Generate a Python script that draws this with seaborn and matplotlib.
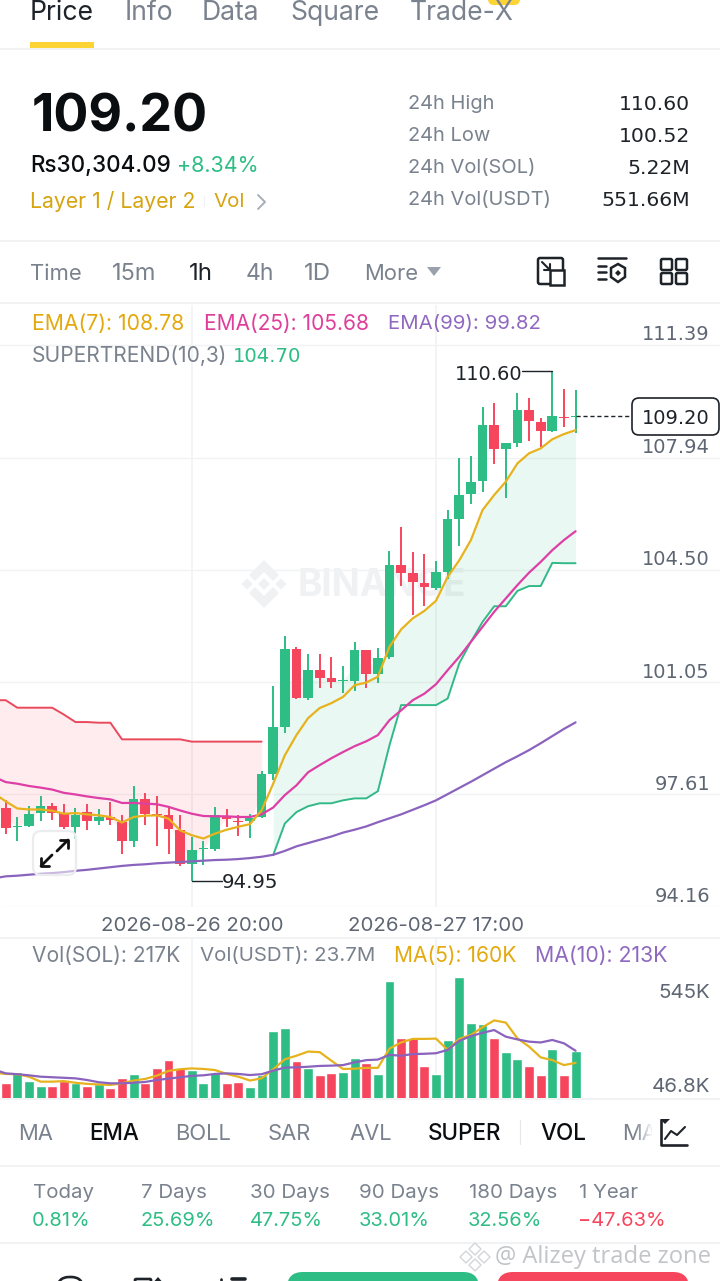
import numpy as np, pandas as pd
import matplotlib
matplotlib.use("Agg")
import matplotlib.pyplot as plt
from matplotlib.patches import FancyBboxPatch, Polygon, Rectangle
import seaborn as sns

sns.set_theme(style="white")
plt.rcParams['font.family'] = ['Inter', 'DejaVu Sans']

# ---------- data (candle index -1 sits just outside the left edge) ----------
opens = [97.30, 97.20,96.60,96.65,97.04,97.26,97.04,96.62,97.07,96.81,96.92,
 96.77,96.17,97.46,97.02,96.99,96.53,95.47,95.94,95.94,96.95,
 96.80,96.80,96.92,98.25,99.68,102.08,100.58,101.42,101.18,101.10,
 101.08,102.03,101.29,101.82,104.66,104.39,104.10,103.95,104.43,106.07,
 106.81,107.21,108.94,108.20,108.40,109.39,109.02,108.75,109.18,109.18]
closes = [97.25, 96.59,96.63,97.01,97.26,97.05,96.62,96.97,96.80,96.92,96.82,
 96.18,97.46,97.02,96.97,96.54,95.49,95.92,95.97,96.97,96.85,
 96.77,96.89,98.25,99.68,102.06,100.58,101.44,101.19,101.07,101.12,
 102.03,101.29,101.80,104.65,104.41,104.11,103.96,104.42,106.05,106.80,
 107.20,108.94,108.19,108.38,109.39,109.05,108.75,109.20,109.15,109.20]
highs = [97.40, 97.43,96.92,97.26,97.55,97.36,97.31,97.18,97.31,97.15,97.38,
 96.99,97.87,97.66,97.55,97.23,96.97,96.31,96.17,97.23,97.15,
 96.97,97.02,98.33,100.93,102.46,102.14,101.93,101.93,101.81,101.54,
 102.28,102.05,102.09,105.07,105.80,105.03,104.97,104.76,106.33,107.94,
 107.99,109.50,109.62,108.38,109.93,109.77,109.14,110.60,110.03,110.01]
lows = [97.10, 96.39,96.18,96.62,96.79,96.82,96.56,96.26,96.51,96.67,96.67,
 95.77,96.00,96.68,96.02,95.78,95.41,94.95,95.46,95.87,96.62,
 96.33,96.29,96.90,98.05,99.50,100.55,100.52,100.86,100.88,100.71,
 100.78,100.88,101.03,101.75,104.00,103.11,103.39,103.88,104.23,105.22,
 106.51,106.87,107.73,106.71,108.27,108.45,108.25,108.73,108.89,108.68]
ema7 = [97.64, 97.40,97.18,97.15,97.15,97.11,97.02,97.04,97.00,96.97,96.92,
 96.75,96.92,96.96,96.97,96.87,96.51,96.36,96.26,96.41,96.53,
 96.62,96.70,97.12,97.94,98.81,99.43,99.95,100.26,100.41,100.60,
 100.96,101.04,101.22,102.14,102.67,103.01,103.24,103.55,104.28,104.79,
 105.41,106.33,106.79,107.20,107.76,108.07,108.22,108.50,108.66,108.78]
ema25 = [98.15, 97.99,97.94,97.87,97.82,97.76,97.66,97.61,97.55,97.50,97.46,
 97.35,97.35,97.33,97.31,97.23,97.12,97.02,96.95,96.94,96.94,
 96.92,96.92,97.00,97.21,97.59,97.89,98.29,98.51,98.72,98.91,
 99.09,99.24,99.43,99.89,100.19,100.50,100.70,100.99,101.42,101.83,
 102.29,102.75,103.21,103.62,104.03,104.41,104.74,105.10,105.41,105.68]
ema99 = [95.04, 95.10,95.12,95.15,95.18,95.20,95.23,95.27,95.30,95.34,95.38,
 95.42,95.45,95.47,95.50,95.52,95.54,95.56,95.58,95.60,95.61,
 95.63,95.66,95.70,95.76,95.88,96.02,96.12,96.22,96.32,96.44,
 96.53,96.63,96.76,96.88,97.00,97.14,97.28,97.43,97.62,97.81,
 98.00,98.20,98.40,98.60,98.78,98.97,99.18,99.40,99.62,99.82]
super_red = [100.50,100.50,100.27,100.27,100.27,100.27,100.06,99.83,99.83,99.81,99.81,
 99.30,99.30,99.30,99.30,99.30,99.30,99.23,99.23,99.23,99.23,99.23,99.23,99.23]
super_green = [95.75,96.72,97.07,97.25,97.34,97.34,97.43,97.49,97.49,97.71,99.12,
 100.35,100.35,100.35,100.35,100.55,101.63,102.29,102.90,103.38,103.38,103.85,
 104.00,104.00,104.71,104.70,104.70]
volumes = [100, 100,140,110,89,90,110,100,91,96,82,
 119,133,100,155,184,157,148,100,136,102,
 105,88,130,288,299,181,157,130,137,142,
 191,172,133,471,265,263,164,135,257,486,
 317,314,264,212,189,163,130,223,130,218]
vol_ma5 = [138, 134,133,124,106,106,108,102,98,96,94,
 100,110,116,128,145,151,154,152,148,134,
 124,110,118,151,187,200,215,213,182,152,
 153,156,156,226,248,261,261,262,221,261,
 275,303,328,320,263,233,194,184,166,174]
vol_ma10 = [150, 136,133,129,124,122,120,118,112,104,100,
 100,102,105,112,117,122,127,129,134,136,
 134,130,133,146,157,158,160,163,164,166,
 176,184,186,203,200,206,207,209,221,254,
 271,283,293,269,259,251,248,257,245,218]
price_ticks = [111.39, 107.94, 104.50, 101.05, 97.61, 94.16]
vol_tick_labels = ['545K', '46.8K']
time_labels = ['2026-08-26 20:00', '2026-08-27 17:00']
time_label_idx = [16, 37]
period_names = ['Today', '7 Days', '30 Days', '90 Days', '180 Days', '1 Year']
period_values = ['0.81%', '25.69%', '47.75%', '33.01%', '32.56%', '\u221247.63%']

GREEN, RED = '#2EBD85', '#F6465D'
YEL, PINK, PUR = '#E6B31E', '#DE3FA6', '#8A63BE'
GRID = '#F1F2F4'; GRAY = '#7A828E'; INK = '#0B0E11'; LBL = '#5E6673'
DJ = 'DejaVu Sans'

W, H = 720, 1281
fig = plt.figure(figsize=(W/100, H/100), dpi=100, facecolor='white')

# watermark layer, under the chart panes
bg = fig.add_axes([0, 0, 1, 1], zorder=-1); bg.set_xlim(0, W); bg.set_ylim(H, 0); bg.axis('off')
WM = '#F0F1F2'
bg.text(298, 586, 'BINANCE', fontsize=37*0.72, color=WM, fontweight='bold', va='center')
for (cx, cy, r) in [(264, 584, 6), (247, 584, 5.5), (281, 584, 5.5)]:
    bg.add_patch(Polygon([(cx-r, cy), (cx, cy-r), (cx+r, cy), (cx, cy+r)], fc=WM, ec='none'))
bg.add_patch(Polygon([(264, 560), (279, 575), (273, 581), (264, 572), (255, 581), (249, 575)], fc=WM, ec='none'))
bg.add_patch(Polygon([(264, 608), (279, 593), (273, 587), (264, 596), (255, 587), (249, 593)], fc=WM, ec='none'))

def pane(top, bottom):
    a = fig.add_axes([0, 1-bottom/H, 1, (bottom-top)/H])
    a.set_facecolor('none')
    a.set_xlim(-5.7/11.63, (W-5.7)/11.63)
    a.set_xticks([]); a.set_yticks([])
    for s in a.spines.values(): s.set_visible(False)
    return a

idx = np.arange(-1, 50)
o, c, hi, lo = map(np.array, (opens, closes, highs, lows))
up = c >= o
ppu = (907-345)/(price_ticks[0]-price_ticks[-1])

ax = pane(305, 907)
ax.set_ylim(price_ticks[-1], price_ticks[0]+40/ppu)
for v in price_ticks:
    ax.axhline(v, color=GRID, lw=1, zorder=0)
for i in time_label_idx:
    ax.axvline(i, color=GRID, lw=1.2, zorder=0)

mid = (o+c)/2
ri = idx[:24]; gi = idx[24:]
# the shaded band follows the candle middles until the breakout, then the EMA(7)
fill_top = np.where(idx >= 33, np.array(ema7), mid)
ax.fill_between(ri, super_red, mid[:24], color=RED, alpha=0.1, lw=0, zorder=1)
ax.fill_between(gi, super_green, fill_top[24:], color=GREEN, alpha=0.1, lw=0, zorder=1)

ax.vlines(idx, lo, hi, colors=[GREEN if u else RED for u in up], lw=1.4, zorder=3)
ax.bar(idx, np.maximum(np.abs(c-o), 0.03), bottom=np.minimum(o, c), width=0.83,
       color=[GREEN if u else RED for u in up], lw=0, zorder=3)

def line(a, xs, ys, col, lw=1.6):
    sns.lineplot(x=xs, y=ys, color=col, lw=lw, ax=a, estimator=None, sort=False, legend=False, zorder=4)
line(ax, ri, super_red, '#E84A5C', 1.4)
line(ax, gi, super_green, '#33B988', 1.4)
line(ax, idx, ema99, PUR)
line(ax, idx, ema25, PINK)
line(ax, idx, ema7, YEL)
ax.set_xlabel(''); ax.set_ylabel('')
ax.set_xticks([]); ax.set_yticks([])

vx = pane(938, 1098)
vx.set_ylim(46.8, 46.8+160/0.276)
for i in time_label_idx:
    vx.axvline(i, color=GRID, lw=1.2, zorder=0)
vdf = pd.DataFrame({'i': idx, 'vol': volumes, 'dir': ['up' if u else 'down' for u in up]})
sns.barplot(data=vdf, x='i', y='vol', hue='dir', palette={'up': GREEN, 'down': RED},
            native_scale=True, dodge=False, width=0.85, saturation=1, legend=False, ax=vx, zorder=2)
line(vx, idx, vol_ma5, YEL, 1.6)
line(vx, idx, vol_ma10, PUR, 1.6)
vx.set_xlim(-5.7/11.63, (W-5.7)/11.63); vx.set_ylim(46.8, 46.8+160/0.276)
vx.set_xlabel(''); vx.set_ylabel(''); vx.set_xticks([]); vx.set_yticks([])

# ---------- pixel overlay for the app chrome ----------
ui = fig.add_axes([0, 0, 1, 1]); ui.set_facecolor('none')
ui.set_xlim(0, W); ui.set_ylim(H, 0); ui.axis('off')

def t(x, y, s, px, col=GRAY, ha='left', w='normal', z=6, **k):
    return ui.text(x, y+4, s, fontsize=px*0.72, color=col, ha=ha, va='center', fontweight=w, zorder=z, **k)
def hl(y, x0=0, x1=W, col='#EEF0F2', lw=1.2):
    ui.plot([x0, x1], [y, y], color=col, lw=lw, solid_capstyle='butt', zorder=1)
def ic(xs, ys, lw=2, col='#1E2329', z=7):
    ui.plot(xs, ys, color=col, lw=lw, solid_capstyle='round', zorder=z)
def box(x, y, w, h, r, fc='none', ec='#1E2329', lw=2, z=7):
    ui.add_patch(FancyBboxPatch((x+r, y+r), w-2*r, h-2*r, boxstyle=f'round,pad={r}', fc=fc, ec=ec, lw=lw, zorder=z))

# top tabs
for x, s, col, px in [(30, 'Price', '#1E2329', 26.5), (125, 'Info', GRAY, 26.5), (202, 'Data', GRAY, 26.5),
                      (290, 'Square', GRAY, 26.5), (410, 'Trade-X', GRAY, 26.5)]:
    ui.text(x, 20, s, fontsize=px*0.72, color=col, ha='left', va='baseline', zorder=6)
ui.add_patch(Rectangle((30, 42), 64, 6, fc='#FCD535', ec='none', zorder=3))
box(488, -8, 32, 13, 6, fc='#FCD535', ec='none', z=5)
hl(48.5)

# price block
t(32, 114, '109.20', 52, INK, w='bold')
t(30, 162, 'Rs30,304.09', 22.5, INK, w='medium')
t(177, 162, '+8.34%', 21.5, GREEN)
t(30, 198, 'Layer 1 / Layer 2', 21.2, '#D6A40F')
t(213, 198, 'Vol', 20.5, '#D6A40F')
ic([258, 265, 258], [195, 202, 209], lw=1.4, col='#A8AEB7')
ic([204, 204], [196, 206], lw=0.8, col='#EEF0F2')
for y, a, b in zip([100, 132, 164, 196], ['24h High', '24h Low', '24h Vol(SOL)', '24h Vol(USDT)'],
                   ['110.60', '100.52', '5.22M', '551.66M']):
    t(408, y, a, 20.1, GRAY)
    t(690, y, b, 20.4, '#1E2329', ha='right', family=DJ)
hl(240.5)

# interval row
for x, s, col, px in [(30, 'Time', GRAY, 22), (112, '15m', GRAY, 23.5), (189, '1h', '#1E2329', 24), (246, '4h', GRAY, 23),
                      (304, '1D', GRAY, 24), (364, 'More', GRAY, 22)]:
    t(x, 270, s, px, col)
ui.add_patch(Polygon([(427, 267), (441, 267), (434, 276)], fc='#9AA1AC', ec='none', zorder=6))
box(538, 258, 25, 26, 2, lw=1.8)
ui.add_patch(Rectangle((550, 270), 13.5, 14.5, fc='white', ec='#1E2329', lw=1.8, zorder=8))
ic([542, 550], [262, 270], lw=1.5); ic([544, 550, 550], [270, 270, 264], lw=1.5)
ic([598, 626], [258, 258], lw=1.8); ic([598, 606], [266, 266], lw=1.8); ic([598, 606], [272, 272], lw=1.8); ic([598, 606], [279, 279], lw=1.8)
ui.add_patch(Polygon([(618, 264), (625, 268), (625, 277), (618, 282), (611, 277), (611, 268)], fc='white', ec='#1E2329', lw=1.8, zorder=7))
ui.add_patch(Polygon([(618, 270), (621, 273), (618, 276), (615, 273)], fc='#1E2329', ec='none', zorder=8))
for bx in (661, 676):
    for by in (259, 273):
        box(bx, by, 11, 11, 1.5, lw=1.8)
hl(302.5)

# legends
t(32, 320, 'EMA(7): 108.78', 21.2, '#E3A90F')
t(204, 320, 'EMA(25): 105.68', 20.9, '#DF3E9B')
t(388, 320, 'EMA(99): 99.82', 20.4, '#8F69C0')
t(32, 352, 'SUPERTREND(10,3)', 21, GRAY)
t(233, 352, '104.70', 19.6, GREEN, family=DJ)

def yp(v): return 345+(price_ticks[0]-v)*ppu
def xp(i): return 5.7+11.63*i
for v in price_ticks:
    t(710, yp(v)-14, f'{v:.2f}', 19.4, LBL, ha='right', family=DJ)

# annotations
ic([522, xp(47)], [yp(max(highs))]*2, lw=1, col='#1E2329')
t(455, 370, f'{max(highs):.2f}', 19.4, '#1E2329', family=DJ)
ic([xp(16), 222], [yp(min(lows))]*2, lw=1, col='#1E2329')
t(222, 879, f'{min(lows):.2f}', 19.8, '#1E2329', family=DJ)
ui.plot([xp(49), 632], [yp(closes[-1])]*2, color='#1E2329', lw=1, ls=(0, (3, 2)), zorder=5)
box(632, 398, 87, 37, 7, fc='white', ec='#1E2329', lw=1.2)
t(676, 415, f'{closes[-1]:.2f}', 19.4, '#1E2329', ha='center', z=8, family=DJ)

# expand button
box(33, 831, 43, 44, 8, fc=(1, 1, 1, 0.55), ec='#EBECEE', lw=1.6)
ic([41, 52], [866, 855], lw=2.0, col='#111111'); ic([41, 41, 49], [858, 866, 866], lw=2.0, col='#111111')
ic([57, 68], [851, 840], lw=2.0, col='#111111'); ic([60, 68, 68], [840, 840, 848], lw=2.0, col='#111111')

# time axis
for i, s in zip(time_label_idx, time_labels):
    t(xp(i), 922, s, 20.4, LBL, ha='center')
hl(938)

# volume legend
t(32, 952, 'Vol(SOL): 217K', 21, GRAY)
t(200, 952, 'Vol(USDT): 23.7M', 20.5, GRAY)
t(394, 952, 'MA(5): 160K', 21, '#E3A90F')
t(535, 952, 'MA(10): 213K', 21.3, '#8F69C0')
t(710, 989, vol_tick_labels[0], 20.5, LBL, ha='right')
t(710, 1083, vol_tick_labels[1], 20.5, LBL, ha='right')
hl(1098.5)

# indicator tabs
for x, s, col, w, px in [(18, 'MA', GRAY, 'normal', 22), (89, 'EMA', '#0B0E11', 'medium', 22.5), (175, 'BOLL', GRAY, 'normal', 22),
                         (268, 'SAR', GRAY, 'normal', 22), (349, 'AVL', GRAY, 'normal', 22), (428, 'SUPER', '#0B0E11', 'medium', 22.5),
                         (540, 'VOL', '#0B0E11', 'medium', 22.5), (622, 'MA', GRAY, 'normal', 22)]:
    t(x, 1130, s, px, col, w=w)
ic([520, 520], [1120, 1144], lw=0.9, col='#E6E8EB')
for k in range(12):
    ui.add_patch(Rectangle((636+k*2, 1118), 2, 30, fc=(1, 1, 1, min(1, (k+1)/9)), ec='none', zorder=6.5))
ui.add_patch(Rectangle((656, 1116), 40, 34, fc='white', ec='none', zorder=6.6))
ic([661, 661, 687], [1120, 1145, 1145], lw=1.9)
ic([665, 671, 677, 685], [1139, 1131, 1135, 1127], lw=1.5)
ui.add_patch(Polygon([(660, 1119), (670, 1119), (665, 1124)], fc='#1E2329', ec='none', zorder=7))
hl(1165.5)

# period stats
for x, s in zip([33, 141, 250, 359, 469, 579], period_names):
    t(x, 1189, s, 20.5, GRAY)
for x, s in zip([32, 141, 250, 359, 468, 578], period_values):
    t(x, 1217, s, 20, RED if s.startswith('\u2212') else GREEN)
hl(1242.5)

# footer
t(495, 1253, '@ Alizey trade zone', 23.8, '#C2C4C8', family='Open Sans')
for (cx, cy, r) in [(475, 1249, 6), (475, 1265, 6), (466, 1257, 6), (484, 1257, 6)]:
    ui.add_patch(Polygon([(cx-r, cy), (cx, cy-r), (cx+r, cy), (cx, cy+r)], fc='white', ec='#D3D5D8', lw=1, zorder=6))
box(287, 1272, 192, 34, 16, fc=GREEN, ec='none', z=3)
box(497, 1272, 192, 34, 16, fc=RED, ec='none', z=3)
box(57, 1277, 26, 26, 12, lw=1.9)
box(135, 1279, 16, 14, 1, lw=1.9)
ui.add_patch(Polygon([(151, 1287), (158, 1279), (165, 1287)], fc='none', ec='#1E2329', lw=1.9, zorder=7))
ic([221, 221], [1279, 1290], lw=1.9); ic([232, 245], [1279, 1279], lw=2.6)

fig.savefig('out.png', dpi=100)
